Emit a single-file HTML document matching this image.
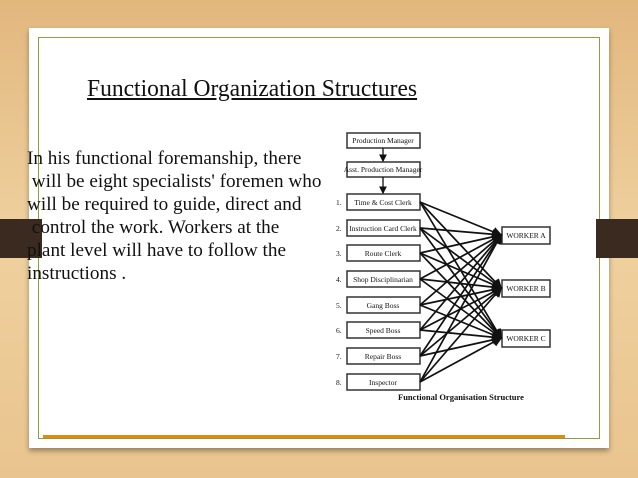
<!DOCTYPE html>
<html><head><meta charset="utf-8"><style>
body{margin:0;width:638px;height:478px;overflow:hidden;background:linear-gradient(180deg,#e2b77e,#efd19f 50%,#e9c48e);font-family:"Liberation Serif",serif;position:relative}
.card{position:absolute;left:29px;top:28px;width:580px;height:420px;background:#fff;box-shadow:0 3px 5px rgba(0,0,0,.35)}
.inner{position:absolute;left:38px;top:37px;width:562px;height:402px;border:1px solid #8aa040;box-sizing:border-box}
.tab{position:absolute;top:219px;width:42px;height:39px;background:#3a2a20}
.orange{position:absolute;left:43px;top:435px;width:522px;height:3px;background:#e8880a}
h1{position:absolute;left:87px;top:76px;margin:0;font-weight:normal;font-size:24px;text-decoration:underline;color:#111;white-space:nowrap;transform-origin:0 0;transform:scaleX(0.98)}
.txt{position:absolute;left:27px;top:147px;font-size:19px;line-height:23px;color:#111;white-space:pre;transform-origin:0 0;transform:scaleX(1.01)}
</style></head><body>
<div class="card"></div><div class="inner"></div>
<div class="tab" style="left:0"></div><div class="tab" style="left:596px"></div>
<div class="orange"></div>
<h1>Functional Organization Structures</h1>
<div class="txt">In his functional foremanship, there
 will be eight specialists' foremen who
will be required to guide, direct and
 control the work. Workers at the
plant level will have to follow the
instructions .</div>
<svg width="638" height="478" style="position:absolute;left:0;top:0" font-family="Liberation Serif" font-size="7.5">
<defs><marker id="a" markerWidth="6" markerHeight="6" refX="5" refY="3" orient="auto"><path d="M0,0L6,3L0,6z" fill="#111"/></marker></defs>
<g fill="#fff" stroke="#333" stroke-width="1.5">
<rect x="347" y="133" width="73" height="15"/><rect x="347" y="162" width="73" height="15"/>
<rect x="347" y="194" width="73" height="16"/><rect x="347" y="220" width="73" height="16"/>
<rect x="347" y="245" width="73" height="16"/><rect x="347" y="271" width="73" height="16"/>
<rect x="347" y="297" width="73" height="16"/><rect x="347" y="322" width="73" height="16"/>
<rect x="347" y="348" width="73" height="16"/><rect x="347" y="374" width="73" height="16"/>
<rect x="502" y="227" width="48" height="17"/><rect x="502" y="280" width="48" height="17"/>
<rect x="502" y="330" width="48" height="17"/>
</g>
<g stroke="#111" stroke-width="1.3">
<line x1="383" y1="148" x2="383" y2="161" marker-end="url(#a)"/>
<line x1="383" y1="177" x2="383" y2="193" marker-end="url(#a)"/>
</g>
<g stroke="#111" stroke-width="1.7" id="ln"></g>
<g text-anchor="middle" fill="#111">
<text x="383" y="143">Production Manager</text><text x="383" y="172">Asst. Production Manager</text>
<text x="383" y="205">Time &amp; Cost Clerk</text><text x="383" y="231">Instruction Card Clerk</text>
<text x="383" y="256">Route Clerk</text><text x="383" y="282">Shop Disciplinarian</text>
<text x="383" y="308">Gang Boss</text><text x="383" y="333">Speed Boss</text>
<text x="383" y="359">Repair Boss</text><text x="383" y="385">Inspector</text>
<text x="526" y="238">WORKER A</text><text x="526" y="291">WORKER B</text><text x="526" y="341">WORKER C</text>
</g>
<g fill="#111"><text x="336" y="205">1.</text><text x="336" y="231">2.</text><text x="336" y="256">3.</text><text x="336" y="282">4.</text><text x="336" y="308">5.</text><text x="336" y="333">6.</text><text x="336" y="359">7.</text><text x="336" y="385">8.</text></g>
<text x="398" y="400" font-size="8.5" font-weight="bold" fill="#111">Functional Organisation Structure</text>
</svg>
<script>
var g=document.getElementById('ln'),ys=[202,228,253,279,305,330,356,382],ws=[235,288,338],s='';
ys.forEach(function(y){ws.forEach(function(w){s+='<line x1="420" y1="'+y+'" x2="501" y2="'+w+'" marker-end="url(#a)"/>';});});
g.innerHTML=s;
</script>
</body></html>
